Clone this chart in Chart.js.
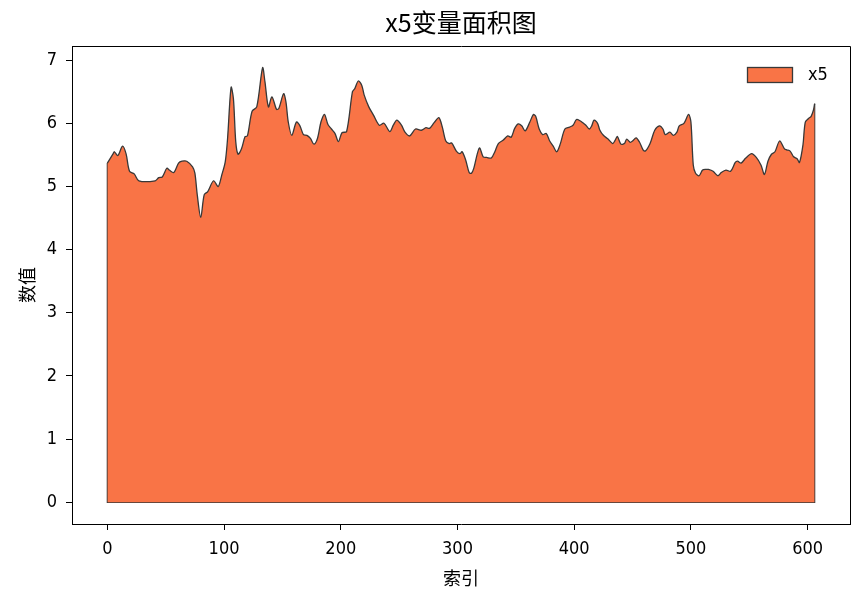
<!DOCTYPE html>
<html>
<head>
<meta charset="utf-8">
<script src="https://cdn.jsdelivr.net/npm/chart.js@4.4.1/dist/chart.umd.min.js"></script>
<style>
html,body{margin:0;padding:0;background:#ffffff;}
#wrap{width:865px;height:593px;}
</style>
</head>
<body>
<div id="wrap"><canvas id="c" width="865" height="593"></canvas></div>
<script>
const chartTitle = 'x5变量面积图';
const seriesName = 'x5';
const xAxisTitle = '索引';
const yAxisTitle = '数值';
const xTicks = [0, 100, 200, 300, 400, 500, 600];
const yTicks = [0, 1, 2, 3, 4, 5, 6, 7];
const baseline = 0;

const xIndex = [
  0, 5, 6, 9, 13, 16, 19, 23, 27, 41, 44, 47, 51, 53, 57, 61, 64, 68, 73, 75,
  77, 80, 83, 86, 91, 95, 98, 101, 103, 106, 108, 110, 112, 115, 118, 120, 124, 128, 133, 135,
  138, 141, 145, 147, 151, 153, 155, 158, 162, 165, 168, 171, 174, 177, 180, 183, 186, 189, 192, 195,
  198, 201, 205, 210, 212, 215, 218, 220, 224, 228, 233, 237, 242, 245, 248, 252, 255, 259, 264, 269,
  273, 276, 280, 284, 287, 290, 293, 295, 299, 302, 304, 307, 310, 312, 314, 317, 319, 322, 325, 329,
  332, 335, 339, 343, 346, 349, 352, 355, 358, 362, 365, 367, 370, 373, 376, 379, 382, 385, 388, 392,
  396, 399, 402, 405, 408, 410, 413, 415, 417, 420, 422, 425, 429, 433, 435, 437, 440, 443, 445, 448,
  450, 453, 456, 459, 461, 465, 469, 473, 476, 478, 482, 485, 488, 490, 494, 498, 500, 502, 504, 507,
  510, 513, 515, 519, 523, 526, 530, 534, 538, 540, 543, 547, 552, 556, 560, 563, 566, 569, 572, 576,
  580, 582, 585, 588, 591, 593, 596, 598, 601, 603, 605, 606
];
const x5Values = [
  5.37, 5.52, 5.55, 5.49, 5.64, 5.52, 5.24, 5.20, 5.09, 5.09, 5.14, 5.15, 5.29, 5.26, 5.22, 5.37, 5.40, 5.40, 5.31, 5.21,
  4.87, 4.51, 4.87, 4.92, 5.09, 5.00, 5.18, 5.39, 5.76, 6.57, 6.39, 5.71, 5.51, 5.60, 5.79, 5.80, 6.19, 6.26, 6.88, 6.66,
  6.26, 6.42, 6.22, 6.24, 6.47, 6.34, 6.02, 5.81, 6.02, 5.96, 5.82, 5.81, 5.76, 5.67, 5.76, 6.02, 6.14, 5.98, 5.91, 5.84,
  5.71, 5.85, 5.87, 6.50, 6.55, 6.67, 6.60, 6.45, 6.26, 6.13, 5.97, 6.00, 5.87, 5.97, 6.05, 5.97, 5.86, 5.80, 5.91, 5.89,
  5.93, 5.92, 6.01, 6.09, 5.94, 5.72, 5.68, 5.69, 5.56, 5.52, 5.55, 5.42, 5.22, 5.21, 5.29, 5.52, 5.61, 5.47, 5.46, 5.45,
  5.55, 5.68, 5.73, 5.80, 5.78, 5.92, 5.99, 5.96, 5.88, 6.02, 6.14, 6.11, 5.91, 5.82, 5.84, 5.72, 5.64, 5.55, 5.67, 5.91,
  5.94, 5.97, 6.06, 6.04, 6.00, 5.97, 5.91, 5.96, 6.05, 6.00, 5.89, 5.81, 5.75, 5.68, 5.73, 5.79, 5.67, 5.68, 5.75, 5.70,
  5.72, 5.77, 5.70, 5.58, 5.56, 5.68, 5.89, 5.96, 5.91, 5.82, 5.86, 5.81, 5.86, 5.96, 6.00, 6.14, 6.02, 5.34, 5.21, 5.17,
  5.26, 5.27, 5.27, 5.24, 5.17, 5.22, 5.26, 5.24, 5.38, 5.40, 5.37, 5.45, 5.52, 5.46, 5.34, 5.19, 5.40, 5.51, 5.55, 5.72,
  5.60, 5.58, 5.56, 5.47, 5.44, 5.38, 5.66, 6.02, 6.08, 6.11, 6.21, 6.31
];

const xFirst = xIndex[0];
const xLast = xIndex[xIndex.length - 1];
const xPad = (xLast - xFirst) * 0.05;
const yMaxVal = Math.max(...x5Values);
const yPad = (yMaxVal - baseline) * 0.05;

const fillColor = '#F97446';
const edgeColor = '#383838';

const areaPoints = xIndex.map((x, i) => ({x: x, y: x5Values[i]}));
// outline of the filled region: left edge, bottom edge, right edge
const edgePoints = [
  {x: xFirst, y: x5Values[0]},
  {x: xFirst, y: baseline},
  {x: xLast, y: baseline},
  {x: xLast, y: x5Values[x5Values.length - 1]}
];

const tickFont = {family: '"DejaVu Sans Condensed", "Liberation Sans Narrow", "Liberation Sans", sans-serif', size: 18};
const cjkFont = '"Noto Sans CJK SC", "Noto Sans CJK JP", sans-serif';

const framePlugin = {
  id: 'frame',
  afterDraw(chart) {
    const {ctx, chartArea: a} = chart;
    ctx.save();
    ctx.strokeStyle = '#000';
    ctx.lineWidth = 1;
    ctx.beginPath();
    ctx.moveTo(Math.round(a.left) + 0.5, Math.round(a.top) + 0.5);
    ctx.lineTo(Math.round(a.right) + 0.5, Math.round(a.top) + 0.5);
    ctx.lineTo(Math.round(a.right) + 0.5, Math.round(a.bottom) + 0.5);
    ctx.stroke();
    // title centred over the plot area
    ctx.fillStyle = '#000';
    ctx.font = '25px ' + cjkFont;
    ctx.textAlign = 'center';
    ctx.textBaseline = 'middle';
    ctx.fillText(chartTitle, (a.left + a.right) / 2, 22);
    // legend (upper right, inside plot)
    const ds = chart.data.datasets[0];
    const bx = a.right - 103, by = a.top + 21, bw = 45, bh = 15;
    ctx.fillStyle = ds.backgroundColor;
    ctx.fillRect(bx, by, bw, bh);
    ctx.strokeStyle = ds.borderColor;
    ctx.lineWidth = 1.3;
    ctx.strokeRect(bx + 0.5, by + 0.5, bw, bh);
    ctx.fillStyle = '#000';
    ctx.font = tickFont.size + 'px ' + tickFont.family;
    ctx.textBaseline = 'middle';
    ctx.textAlign = 'left';
    ctx.fillText(ds.label, bx + bw + 16, by + bh / 2 + 1);
    ctx.restore();
  }
};

new Chart(document.getElementById('c'), {
  type: 'line',
  data: {
    datasets: [
      {
        label: seriesName,
        data: areaPoints,
        fill: 'origin',
        backgroundColor: fillColor,
        borderColor: edgeColor,
        borderWidth: 1.3,
        pointRadius: 0,
        tension: 0.3
      },
      {
        label: 'edge',
        data: edgePoints,
        fill: false,
        borderColor: edgeColor,
        borderWidth: 1.3,
        pointRadius: 0,
        tension: 0
      }
    ]
  },
  options: {
    responsive: false,
    animation: false,
    devicePixelRatio: 1,
    layout: {padding: {left: 0, right: 15, top: 46, bottom: 0}},
    plugins: {
      title: {display: false},
      legend: {display: false},
      tooltip: {enabled: false}
    },
    scales: {
      x: {
        type: 'linear',
        min: xFirst - xPad,
        max: xLast + xPad,
        afterBuildTicks: (s) => { s.ticks = xTicks.map(v => ({value: v})); },
        afterFit: (s) => { s.height = 69; },
        ticks: {font: tickFont, color: '#000', padding: 9, maxRotation: 0, autoSkip: false},
        grid: {display: true, drawOnChartArea: false, drawTicks: true, tickLength: 6, color: '#000'},
        border: {display: true, color: '#000', width: 1},
        title: {display: true, text: xAxisTitle, color: '#000', font: {family: cjkFont, size: 18}, padding: {top: 0, bottom: 4}}
      },
      y: {
        type: 'linear',
        min: baseline - yPad,
        max: yMaxVal + yPad,
        afterBuildTicks: (s) => { s.ticks = yTicks.map(v => ({value: v})); },
        afterFit: (s) => { s.width = 72; },
        ticks: {font: tickFont, color: '#000', padding: 9},
        grid: {display: true, drawOnChartArea: false, drawTicks: true, tickLength: 6, color: '#000'},
        border: {display: true, color: '#000', width: 1},
        title: {display: true, text: yAxisTitle, color: '#000', font: {family: cjkFont, size: 18}, padding: {top: 16, bottom: 0}}
      }
    }
  },
  plugins: [framePlugin]
});
</script>
</body>
</html>
